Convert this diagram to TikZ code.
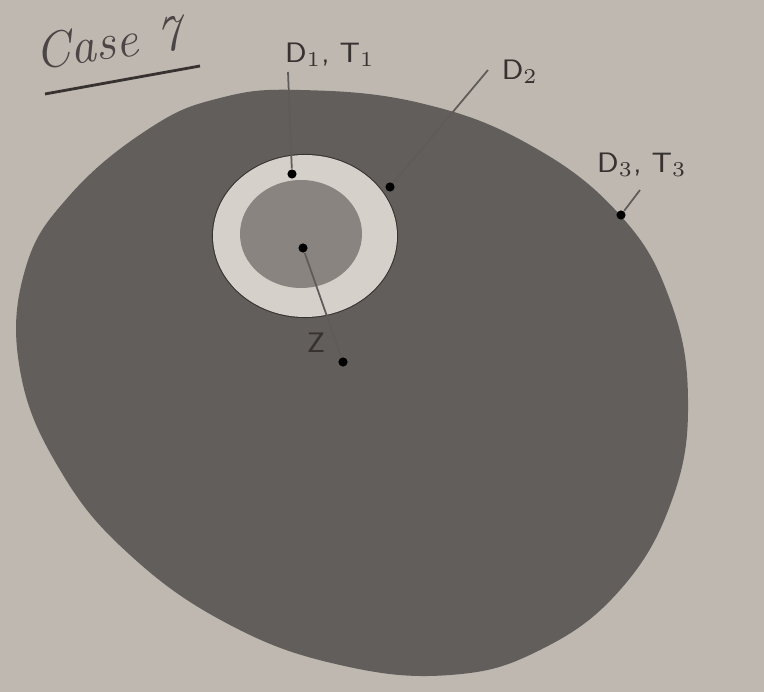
\documentclass[tikz,border=0pt]{standalone}
\usepackage{tikz}
\usetikzlibrary{positioning}
\definecolor{paper}{RGB}{190,184,177}
\definecolor{blobgray}{RGB}{98,94,91}
\definecolor{ringwhite}{RGB}{214,208,202}
\definecolor{coregray}{RGB}{137,132,128}
\definecolor{ink}{RGB}{55,50,48}
\tikzset{
  pt/.style={circle,fill=black,inner sep=0pt,minimum size=2.6pt},
  lbl/.style={font=\sffamily\footnotesize,text=ink,inner sep=1pt},
  leader/.style={draw=ink!80,line width=0.5pt}
}
\begin{document}
\begin{tikzpicture}[x=0.01cm,y=-0.01cm]
    \fill[paper] (0,0) rectangle (764,692);
    \useasboundingbox (0,0) rectangle (764,692);

    % body
    \fill[blobgray] plot[smooth cycle,tension=0.7] coordinates {
      (300,90) (420,103) (530,145) (620,215) (670,300) (688,400)
      (672,500) (620,590) (540,650) (450,675) (340,665) (230,625)
      (130,555) (60,470) (20,370) (25,270) (70,195) (150,128) (220,98)};
    \draw[ink,line width=0.6pt] (305,236) ellipse (92 and 81);
    \fill[ringwhite] (305,236) ellipse (92 and 81);
    \fill[coregray] (301,234) ellipse (61 and 54);

    % title
    \node[font=\Large\itshape,text=ink!90,rotate=8] (title) at (108,42) {Case 7};
    \draw[ink,line width=0.8pt] (45,94) -- (200,66);

    % points
    \node[pt] (p1) at (292,174) {};
    \node[pt] (p2) at (390,187) {};
    \node[pt] (p3) at (621,215) {};
    \node[pt] (c) at (303,248) {};
    \node[pt] (z) at (343,362) {};

    % labels
    \node[lbl] (l1) at (330,55) {D$_1$, T$_1$};
    \node[lbl] (l2) at (520,72) {D$_2$};
    \node[lbl] (l3) at (642,165) {D$_3$, T$_3$};
    \node[lbl] (lz) at (316,343) {Z};
    \coordinate (e1) at (288,72);
    \coordinate (e2) at (488,70);
    \coordinate (e3) at (640,190);

    \draw[leader] (p1) -- (e1);
    \draw[leader] (p2) -- (e2);
    \draw[leader] (p3) -- (e3);
    \draw[leader] (c) -- (z);
\end{tikzpicture}
\end{document}
